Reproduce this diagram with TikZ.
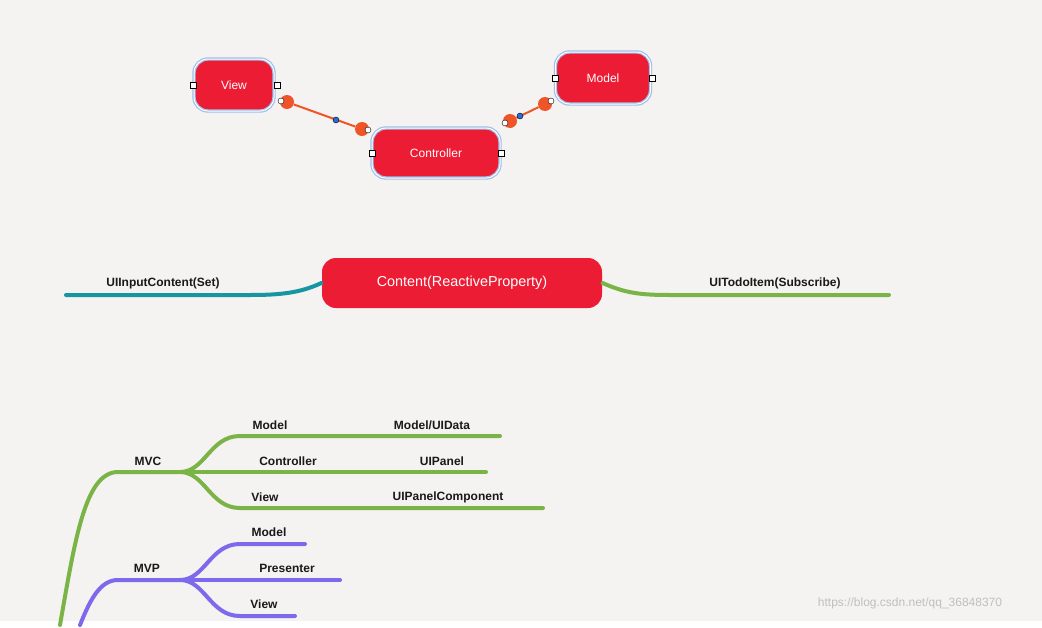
\documentclass[tikz,border=0pt]{standalone}
\usepackage{fontspec}
\setmainfont{Liberation Sans}
\usetikzlibrary{positioning,arrows.meta,shapes}
\definecolor{bg}{RGB}{245,242,242}
\definecolor{mred}{RGB}{236,28,52}
\definecolor{halo}{RGB}{160,190,230}
\definecolor{lorange}{RGB}{240,85,40}
\definecolor{lteal}{RGB}{22,150,160}
\definecolor{lgreen}{RGB}{122,180,70}
\definecolor{lpurple}{RGB}{125,105,235}
\definecolor{ldot}{RGB}{40,110,210}

\begin{document}
\begin{tikzpicture}[x=1pt, y=-1pt,
	topic/.style={rounded corners=14pt, fill=mred, text=white, font=\large, draw=halo, line width=1.2pt, double=white, double distance=1pt},
	handle/.style={draw=black, fill=white, inner sep=0pt, minimum size=6pt},
	knob/.style={circle, fill=lorange, inner sep=0pt, minimum size=14pt},
	pin/.style={circle, draw=black, fill=white, inner sep=0pt, minimum size=6pt},
	bluedot/.style={circle, draw=black, fill=ldot, inner sep=0pt, minimum size=6pt},
	lbl/.style={font=\bfseries\large, text=black!90},
	branch/.style={line width=4pt, line cap=round}]
		\fill[bg] (0,0) rectangle (1042,621);
		% MVC triangle
		\draw (234,85)node[topic, minimum width=80pt, minimum height=52pt](view){View};
		\draw (603,78)node[topic, minimum width=95pt, minimum height=52pt](model){Model};
		\draw (436,153)node[topic, minimum width=128pt, minimum height=50pt](ctrl){Controller};
		\draw (193,85)node[handle](v1){};
		\draw (277,85)node[handle](v2){};
		\draw (555,78)node[handle](m1){};
		\draw (652,78)node[handle](m2){};
		\draw (372,153)node[handle](c1){};
		\draw (501,153)node[handle](c2){};
		\draw (287,102)node[knob](k1){};
		\draw (362,129)node[knob](k2){};
		\draw (510,121)node[knob](k3){};
		\draw (545,104)node[knob](k4){};
		\draw[lorange, line width=2pt] (k1) -- (k2);
		\draw[lorange, line width=2pt] (k3) -- (k4);
		\draw (281,101)node[pin]{};
		\draw (368,130)node[pin]{};
		\draw (505,123)node[pin]{};
		\draw (551,101)node[pin]{};
		\draw (336,120)node[bluedot](d1){};
		\draw (520,116)node[bluedot](d2){};
		% reactive property
		\draw (462,283)node[topic, minimum width=280pt, minimum height=50pt, font=\Large, draw=none](content){Content(ReactiveProperty)};
		\coordinate (inL) at (66,295);
		\coordinate (outR) at (889,295);
		\draw[branch, lteal] (content.west) .. controls (300,293) and (280,295) .. (250,295) -- (inL);
		\draw[branch, lgreen] (content.east) .. controls (625,293) and (640,295) .. (670,295) -- (outR);
		\draw (163,283)node[lbl](input){UIInputContent(Set)};
		\draw (775,283)node[lbl](todo){UITodoItem(Subscribe)};
		% tree
		\coordinate (root1) at (60,625);
		\coordinate (mvc) at (180,472);
		\coordinate (mvp) at (180,580);
		\draw[branch, lgreen] (root1) .. controls (75,540) and (85,472) .. (118,472) -- (mvc);
		\draw[branch, lgreen] (mvc) .. controls (205,472) and (210,436) .. (240,436) -- (500,436);
		\draw[branch, lgreen] (mvc) -- (486,472);
		\draw[branch, lgreen] (mvc) .. controls (205,472) and (210,508) .. (240,508) -- (543,508);
		\coordinate (root2) at (80,625);
		\draw[branch, lpurple] (root2) .. controls (90,600) and (100,580) .. (118,580) -- (mvp);
		\draw[branch, lpurple] (mvp) .. controls (205,580) and (210,544) .. (240,544) -- (305,544);
		\draw[branch, lpurple] (mvp) -- (340,580);
		\draw[branch, lpurple] (mvp) .. controls (205,580) and (210,616) .. (240,616) -- (295,616);
		\draw (148,461)node[lbl](mvcl){MVC};
		\draw (270,425)node[lbl](mm){Model};
		\draw (432,425)node[lbl](mmd){Model/UIData};
		\draw (288,461)node[lbl](mc){Controller};
		\draw (442,461)node[lbl](mcd){UIPanel};
		\draw (265,497)node[lbl](mv){View};
		\draw (448,497)node[lbl](mvd){UIPanelComponent};
		\draw (147,568)node[lbl](mvpl){MVP};
		\draw (269,532)node[lbl](pm){Model};
		\draw (287,568)node[lbl](pp){Presenter};
		\draw (264,604)node[lbl](pv){View};
		\draw (910,603)node[text=black!25, font=\large](mark){https://blog.csdn.net/qq\_36848370};
\end{tikzpicture}
\end{document}
